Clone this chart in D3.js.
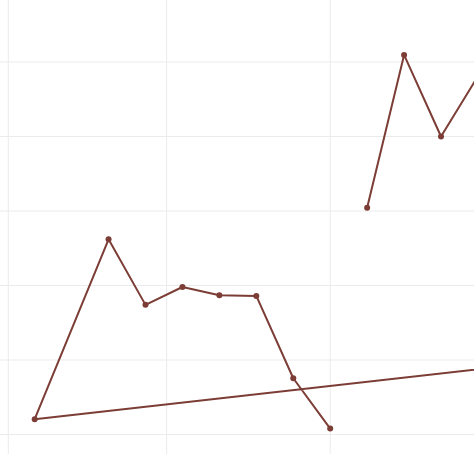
<!DOCTYPE html>
<html>
<head>
<meta charset="utf-8">
<script src="https://cdn.jsdelivr.net/npm/d3@7"></script>
<style>
  html, body { margin: 0; padding: 0; background: #fff; overflow: hidden; }
  svg { display: block; }
</style>
</head>
<body>
<svg id="chart" width="474" height="454"></svg>
<script>
// Weekly observations, in the order they appear in the source data
const dates = ["2020-11-08","2020-11-15","2020-11-22","2020-11-29","2020-12-06","2020-12-13",
               "2020-09-06","2020-09-20","2020-09-27","2020-10-04","2020-10-11","2020-10-18","2020-10-25","2020-11-01"];
const values = [60.9, 101.9, 80.0, 96.2, 70.0, 19.7,
                4.1, 52.4, 34.8, 39.6, 37.4, 37.2, 15.1, 1.6];
const monthTicks = ["2020-08-01","2020-09-01","2020-10-01","2020-11-01","2020-12-01"];
const valueTicks = [0, 20, 40, 60, 80, 100, 120];

const W = 474, H = 454;
const svg = d3.select("#chart");
const parse = d3.utcParse("%Y-%m-%d");
const data = dates.map((d, i) => ({ date: parse(d), value: values[i] }));

const x = d3.scaleUtc()
  .domain([parse("2020-09-01"), parse("2020-11-01")])
  .range([8.3, 330.2]);
const y = d3.scaleLinear()
  .domain([0, 100])
  .range([434.5, 62]);

const grid = svg.append("g").attr("stroke", "#ebebeb").attr("stroke-width", 1);
grid.selectAll("line.v").data(monthTicks.map(parse)).join("line")
  .attr("class", "v")
  .attr("x1", d => x(d)).attr("x2", d => x(d))
  .attr("y1", 0).attr("y2", H);
grid.selectAll("line.h").data(valueTicks).join("line")
  .attr("class", "h")
  .attr("x1", 0).attr("x2", W)
  .attr("y1", d => y(d)).attr("y2", d => y(d));

const color = "#7b3d35";
const line = d3.line().x(d => x(d.date)).y(d => y(d.value));

svg.append("path")
  .datum(data)
  .attr("d", line)
  .attr("fill", "none")
  .attr("stroke", color)
  .attr("stroke-width", 2)
  .attr("stroke-linejoin", "round");

svg.append("g").selectAll("circle").data(data).join("circle")
  .attr("cx", d => x(d.date))
  .attr("cy", d => y(d.value))
  .attr("r", 3)
  .attr("fill", color);
</script>
</body>
</html>
